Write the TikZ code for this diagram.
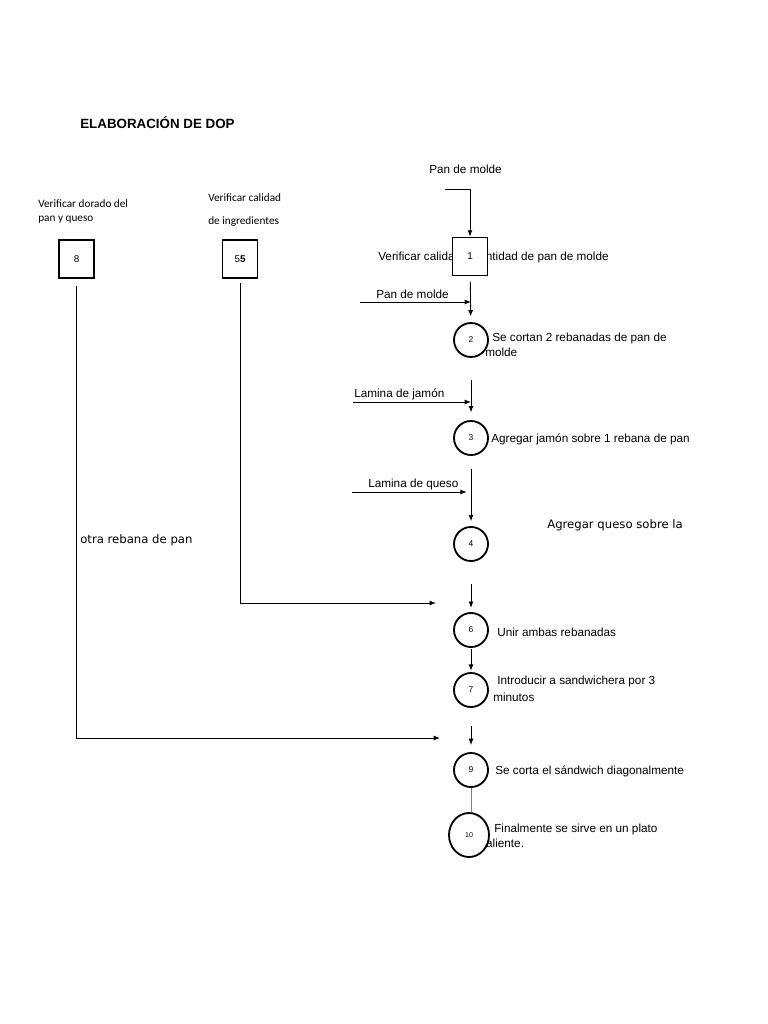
\documentclass[tikz,border=0pt]{standalone}
\usepackage{fontspec}
\setmainfont{Liberation Sans}
\newfontfamily\dejavu{DejaVu Sans}
\newfontfamily\carlito{Carlito}
\usetikzlibrary{arrows.meta, shapes.geometric}
\tikzstyle{op} = [circle,draw,line width=1.3pt,fill=white,inner sep=0pt,minimum size=0.85cm,font=\fontsize{6}{7}\selectfont]
\tikzstyle{insp} = [rectangle,draw,line width=1.3pt,fill=white,inner sep=0pt,minimum width=0.875cm,minimum height=0.95cm,font=\fontsize{7}{8}\selectfont]
\tikzstyle{lbl} = [anchor=west,inner sep=0pt,font=\fontsize{8.35}{9}\selectfont]
\tikzstyle{note} = [anchor=west,inner sep=0pt,font=\carlito\fontsize{8}{9}\selectfont]
\tikzstyle{big} = [anchor=west,inner sep=0pt,font=\dejavu\fontsize{8.3}{10}\selectfont]
\tikzstyle{flow} = [->,line width=0.6pt]

\begin{document}
\begin{tikzpicture}[x=0.025cm,y=-0.025cm,>={Latex[length=4.5pt,width=3.5pt]}]
	\useasboundingbox (0,0) rectangle (768,1024);

	\node[anchor=west,inner sep=0pt,font=\bfseries\fontsize{9.5}{11}\selectfont](title) at (80,123) {ELABORACIÓN DE DOP};

	\node[note](t8a) at (38,204) {Verificar dorado del};
	\node[note](t8b) at (38,220) {pan y queso};
	\node[note](t55a) at (208,198) {Verificar calidad};
	\node[note](t55b) at (208,222) {de ingredientes};
	\node[insp](b8) at (76.5,259) {8};
	\node[insp](b55) at (240,259) {5\textbf{5}};

	\node[lbl](tin) at (429,169) {Pan de molde};
	\node[lbl](t1) at (378,257) {Verificar calidad y cantidad de pan de molde};
	\node[insp](b1) at (470,256.5) {1};

	\node[op](o2) at (471,340) {2};
	\node[op](o3) at (471,438) {3};
	\node[op](o4) at (471,544) {4};
	\node[op](o6) at (471,630) {6};
	\node[op](o7) at (471,690) {7};
	\node[op](o9) at (471,770) {9};
	\node[lbl](t10b) at (480,843) {caliente.};
	\node[op,ellipse,minimum width=1cm,minimum height=1.1cm,font=\fontsize{5}{6}\selectfont](o10) at (469,835) {10};

	\node[lbl](t2a) at (492,338) {Se cortan 2 rebanadas de pan de};
	\node[lbl](t2b) at (485,352) {molde};
	\node[lbl](t3) at (491,439) {Agregar jamón sobre 1 rebana de pan};
	\node[big](t4a) at (547,525) {Agregar queso sobre la};
	\node[big](t4b) at (80,540) {otra rebana de pan};
	\node[lbl](t6) at (497,632) {Unir ambas rebanadas};
	\node[lbl](t7a) at (497,681) {Introducir a sandwichera por 3};
	\node[lbl](t7b) at (493,697) {minutos};
	\node[lbl](t9) at (495,771) {Se corta el sándwich diagonalmente};
	\node[lbl](t10a) at (494,829) {Finalmente se sirve en un plato};

	\node[lbl](tpm) at (376,294) {Pan de molde};
	\node[lbl](tjm) at (354,394) {Lamina de jamón};
	\node[lbl](tqs) at (368,484) {Lamina de queso};

	\coordinate (pin) at (445,189);
	\coordinate (pm) at (360,302);
	\coordinate (jm) at (353,402);
	\coordinate (qs) at (352,492);
	\coordinate (j6) at (436,603);
	\coordinate (j9) at (440,738);

	\draw[flow] (pin) -| (b1);
	\draw[flow,shorten <=3.5pt,shorten >=4pt] (b1) -- (o2);
	\draw[flow,shorten <=16pt,shorten >=5.5pt] (o2) -- (o3);
	\draw[flow,shorten <=9pt,shorten >=3.5pt] (o3) -- (o4);
	\draw[flow,shorten <=15.5pt,shorten >=3pt] (o4) -- (o6);
	\draw[flow,shorten <=1pt,shorten >=1pt] (o6) -- (o7);
	\draw[flow,shorten <=13pt,shorten >=5pt] (o7) -- (o9);
	\draw[-,line width=0.6pt,gray] (o9) -- (o9 |- o10.north);

	\draw[flow] (pm) -- (pm -| o2);
	\draw[flow] (jm) -- (jm -| o3);
	\draw[flow] (qs) -- ([xshift=-3pt]qs -| o4);

	\draw[flow,shorten <=3pt] (b55) |- (j6);
	\draw[flow,shorten <=5pt] (b8) |- (j9);

\end{tikzpicture}
\end{document}
